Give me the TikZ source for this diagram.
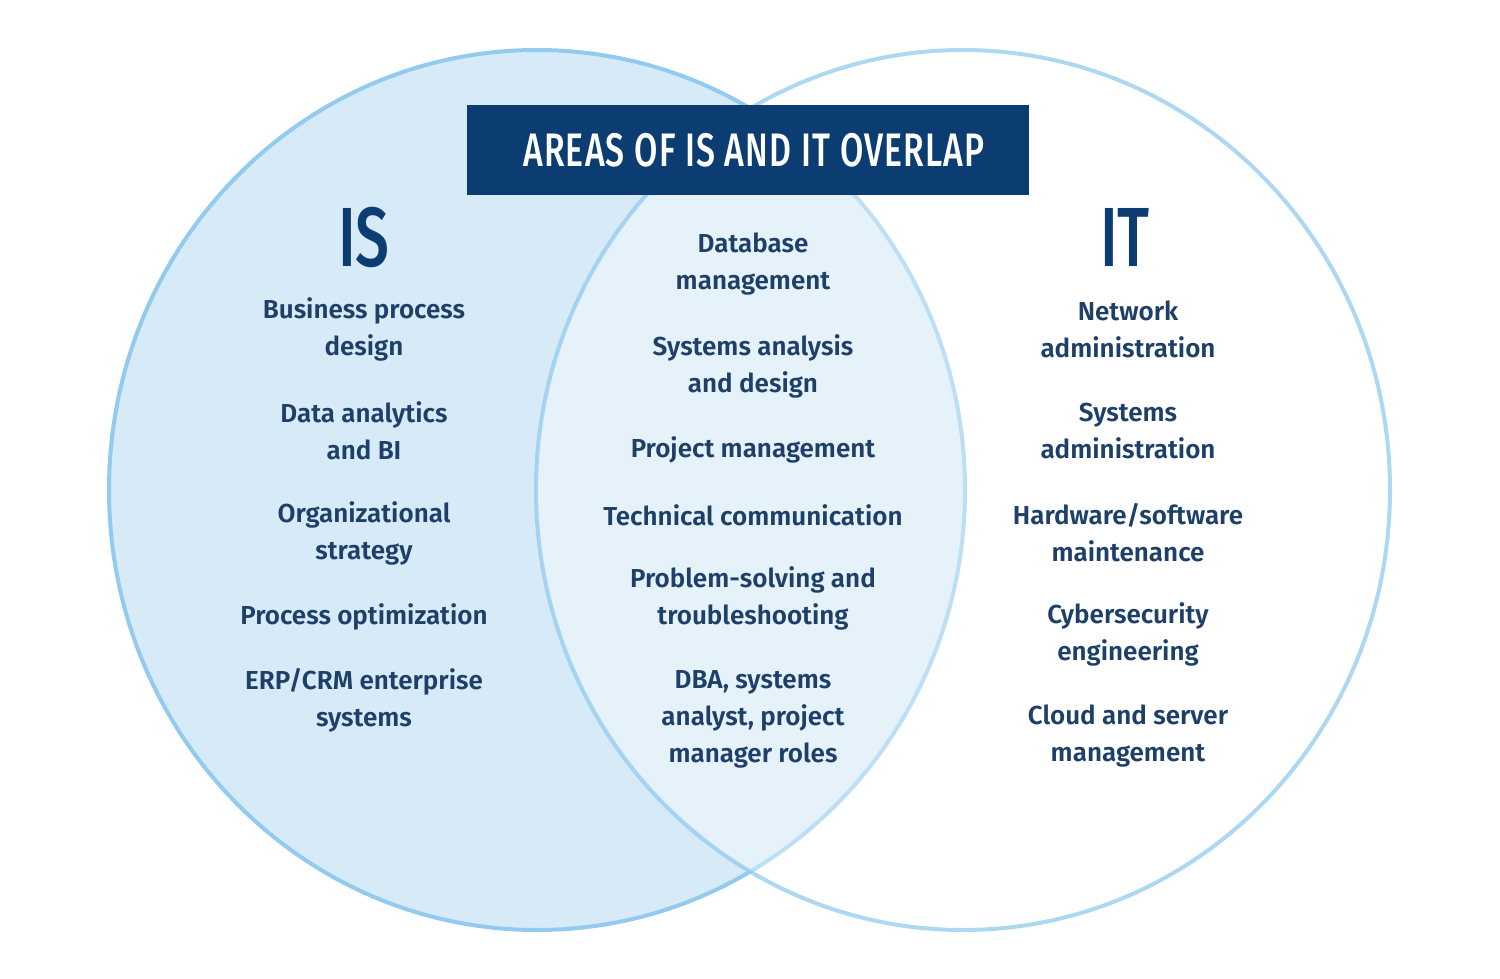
\documentclass[tikz,border=0pt]{standalone}
\usepackage{fontspec}
\setmainfont{Fira Sans}
\newfontfamily\bodyfont{Fira Sans SemiBold}
\newfontfamily\headfont[FakeStretch=0.72]{Fira Sans Medium}
\newfontfamily\bannerfont[FakeStretch=0.72,LetterSpace=2.5]{Fira Sans Medium}
\definecolor{isfill}{HTML}{D6EAF8}
\definecolor{isline}{HTML}{92CBEF}
\definecolor{navy}{HTML}{0B3D73}
\definecolor{inkblue}{HTML}{1E3F68}

\begin{document}
\begin{tikzpicture}[
	x=1pt, y=-1pt,
	item/.style={ align=center, text=inkblue, inner sep=0pt, font=\bodyfont\fontsize{26}{37}\selectfont },
	side/.style={ text=navy, inner sep=0pt, font=\headfont\fontsize{84}{84}\selectfont },
	banner/.style={ fill=navy, text=white, inner sep=0pt, minimum width=562pt, minimum height=90pt, font=\bannerfont\fontsize{47}{47}\selectfont }
]

\useasboundingbox (0,0) rectangle (1500,979);

% the two sets
\draw[line width=4pt, isline, fill=isfill] (537,490) ellipse [x radius=428pt, y radius=440pt];
\draw[line width=4pt, draw=isline, draw opacity=0.75, fill=white, fill opacity=0.4] (963,490) ellipse [x radius=427pt, y radius=440pt];

\node[banner] at (748,150) (title) {\kern12pt AREAS OF IS AND IT OVERLAP};

\node[side] at (364,237) (is) {IS};
\node[side] at (1125,237) (it) {IT};

\begin{scope}
	\node[item] at (364,329) (is1) {Business process\\design};
	\node[item] at (364,431) (is2) {Data analytics\\and BI};
	\node[item] at (364,533) (is3) {Organizational\\strategy};
	\node[item] at (364,617) (is4) {Process optimization};
	\node[item] at (364,700) (is5) {ERP/CRM enterprise\\systems};
\end{scope}

\begin{scope}
	\node[item] at (753,264) (both1) {Database\\management};
	\node[item] at (753,366) (both2) {Systems analysis\\and design};
	\node[item] at (753,450) (both3) {Project management};
	\node[item] at (753,515) (both4) {Technical communication};
	\node[item] at (753,598) (both5) {Problem-solving and\\troubleshooting};
	\node[item] at (753,719) (both6) {DBA, systems\\analyst, project\\manager roles};
\end{scope}

\begin{scope}
	\node[item] at (1128,329) (it1) {Network\\administration};
	\node[item] at (1128,431) (it2) {Systems\\administration};
	\node[item] at (1128,532.5) (it3) {Hardware/software\\maintenance};
	\node[item] at (1128,634) (it4) {Cybersecurity\\engineering};
	\node[item] at (1128,736) (it5) {Cloud and server\\management};
\end{scope}

\end{tikzpicture}
\end{document}
